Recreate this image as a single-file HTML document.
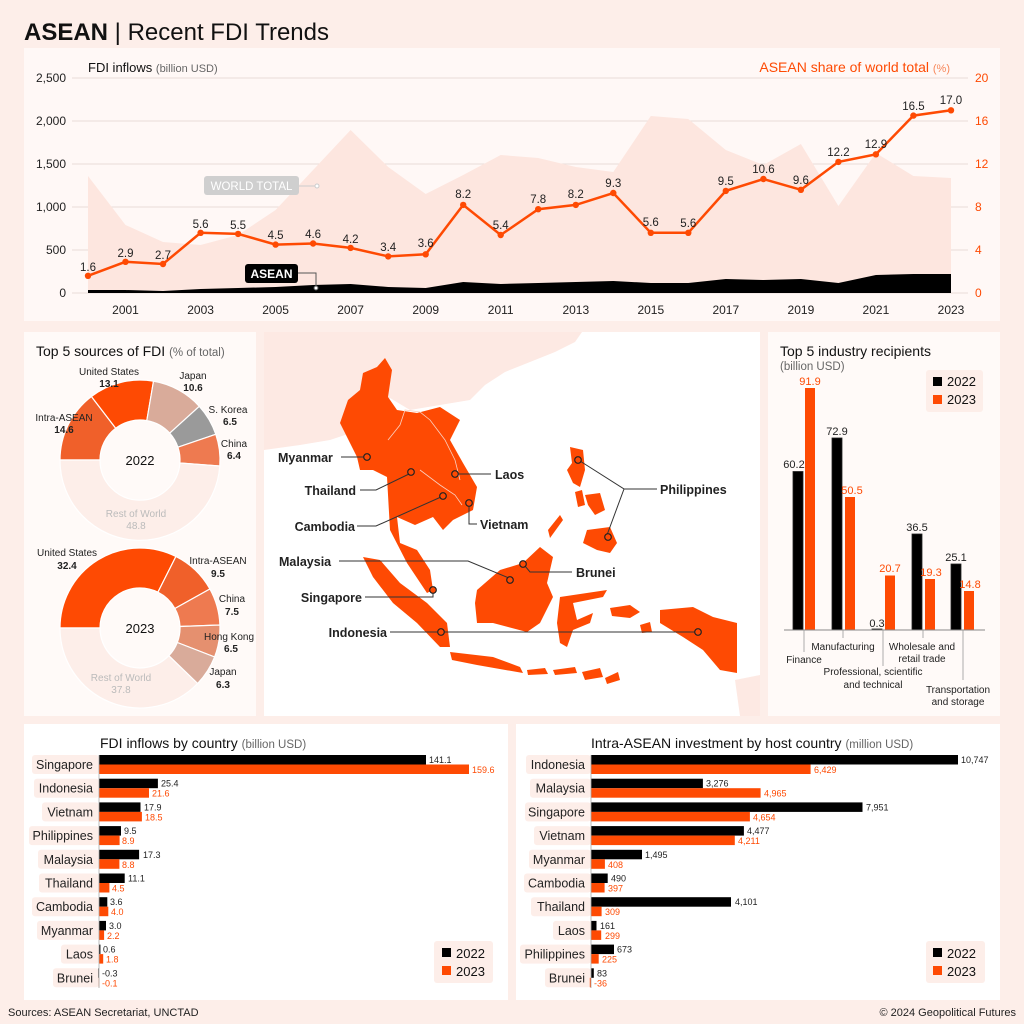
<!DOCTYPE html>
<html><head><meta charset="utf-8"><style>
html,body{margin:0;padding:0;background:#fdeee9;}
svg{display:block;font-family:"Liberation Sans",sans-serif;}
</style></head><body>
<svg width="1024" height="1024" viewBox="0 0 1024 1024" xmlns="http://www.w3.org/2000/svg">
<rect width="1024" height="1024" fill="#fdeee9"/>
<text x="24" y="40" font-size="24" font-weight="bold" fill="#111">ASEAN<tspan font-weight="normal"> | Recent FDI Trends</tspan></text>

<!-- TOP PANEL -->
<rect x="24" y="48" width="976" height="273" fill="#fff8f6"/>
<g stroke="#eadcd8" stroke-width="1">
<line x1="72" y1="78" x2="968" y2="78"/><line x1="72" y1="121" x2="968" y2="121"/><line x1="72" y1="164" x2="968" y2="164"/><line x1="72" y1="207" x2="968" y2="207"/><line x1="72" y1="250" x2="968" y2="250"/><line x1="72" y1="293" x2="968" y2="293"/>
</g>
<polygon fill="#fde6df" points="88,293 88,176 125.5,225 163,242 200.6,245 238.1,235 275.6,210 313.1,170 350.6,130 388.2,167 425.7,194 463.2,175 500.7,155 538.2,158 575.8,167 613.3,172 650.8,116 688.3,119 725.8,150 763.4,165 800.9,144 838.4,206 875.9,153 913.4,176 951,178 951,293"/>
<polygon fill="#000" points="88,293 88,290 125.5,290 163,291 200.6,289 238.1,288 275.6,287 313.1,285 350.6,284 388.2,287 425.7,288 463.2,282 500.7,284 538.2,283 575.8,282 613.3,281 650.8,283 688.3,283 725.8,279 763.4,280 800.9,279 838.4,283 875.9,275 913.4,274 951,274 951,293"/>
<g font-size="12" fill="#222" text-anchor="end">
<text x="66" y="82">2,500</text><text x="66" y="125">2,000</text><text x="66" y="168">1,500</text><text x="66" y="211">1,000</text><text x="66" y="254">500</text><text x="66" y="297">0</text>
</g>
<g font-size="12" fill="#fe4a03">
<text x="975" y="82">20</text><text x="975" y="125">16</text><text x="975" y="168">12</text><text x="975" y="211">8</text><text x="975" y="254">4</text><text x="975" y="297">0</text>
</g>
<g font-size="12" fill="#222" text-anchor="middle">
<text x="125.5" y="314">2001</text><text x="200.6" y="314">2003</text><text x="275.6" y="314">2005</text><text x="350.6" y="314">2007</text><text x="425.7" y="314">2009</text><text x="500.7" y="314">2011</text><text x="575.8" y="314">2013</text><text x="650.8" y="314">2015</text><text x="725.8" y="314">2017</text><text x="800.9" y="314">2019</text><text x="875.9" y="314">2021</text><text x="951" y="314">2023</text>
</g>
<text x="88" y="72" font-size="13" fill="#111">FDI inflows <tspan font-size="11" fill="#666">(billion USD)</tspan></text>
<text x="950" y="72" font-size="14" fill="#fe4a03" text-anchor="end">ASEAN share of world total <tspan font-size="11" fill="#f7875a">(%)</tspan></text>
<rect x="204" y="176" width="95" height="19" rx="3" fill="#cfcfcf"/>
<text x="251.5" y="190" font-size="11.5" fill="#fff" text-anchor="middle">WORLD TOTAL</text>
<line x1="299" y1="186" x2="316" y2="186" stroke="#ccc"/><circle cx="317" cy="186" r="2" fill="#fff" stroke="#ccc"/>
<rect x="245" y="264" width="53" height="19" rx="3" fill="#000"/>
<text x="271.5" y="278" font-size="12" font-weight="bold" fill="#fff" text-anchor="middle">ASEAN</text>
<polyline points="298,273 316,273 316,287" fill="none" stroke="#555"/><circle cx="316" cy="288" r="2" fill="#fff" stroke="#555"/>
<polyline fill="none" stroke="#fe4a03" stroke-width="2.5" points="88,275.8 125.5,261.8 163,264 200.6,232.8 238.1,233.9 275.6,244.6 313.1,243.5 350.6,247.9 388.2,256.4 425.7,254.3 463.2,204.9 500.7,235 538.2,209.2 575.8,204.9 613.3,193 650.8,232.8 688.3,232.8 725.8,190.9 763.4,179 800.9,189.8 838.4,161.9 875.9,154.3 913.4,115.6 951,110.3"/>
<g fill="#fe4a03">
<circle cx="88" cy="275.8" r="3.2"/><circle cx="125.5" cy="261.8" r="3.2"/><circle cx="163" cy="264" r="3.2"/><circle cx="200.6" cy="232.8" r="3.2"/><circle cx="238.1" cy="233.9" r="3.2"/><circle cx="275.6" cy="244.6" r="3.2"/><circle cx="313.1" cy="243.5" r="3.2"/><circle cx="350.6" cy="247.9" r="3.2"/><circle cx="388.2" cy="256.4" r="3.2"/><circle cx="425.7" cy="254.3" r="3.2"/><circle cx="463.2" cy="204.9" r="3.2"/><circle cx="500.7" cy="235" r="3.2"/><circle cx="538.2" cy="209.2" r="3.2"/><circle cx="575.8" cy="204.9" r="3.2"/><circle cx="613.3" cy="193" r="3.2"/><circle cx="650.8" cy="232.8" r="3.2"/><circle cx="688.3" cy="232.8" r="3.2"/><circle cx="725.8" cy="190.9" r="3.2"/><circle cx="763.4" cy="179" r="3.2"/><circle cx="800.9" cy="189.8" r="3.2"/><circle cx="838.4" cy="161.9" r="3.2"/><circle cx="875.9" cy="154.3" r="3.2"/><circle cx="913.4" cy="115.6" r="3.2"/><circle cx="951" cy="110.3" r="3.2"/>
</g>
<g font-size="11.5" fill="#222" text-anchor="middle">
<text x="88" y="271">1.6</text><text x="125.5" y="257">2.9</text><text x="163" y="259">2.7</text><text x="200.6" y="228">5.6</text><text x="238.1" y="229">5.5</text><text x="275.6" y="239">4.5</text><text x="313.1" y="238">4.6</text><text x="350.6" y="243">4.2</text><text x="388.2" y="251">3.4</text><text x="425.7" y="247">3.6</text><text x="463.2" y="198">8.2</text><text x="500.7" y="229">5.4</text><text x="538.2" y="203">7.8</text><text x="575.8" y="198">8.2</text><text x="613.3" y="187">9.3</text><text x="650.8" y="226">5.6</text><text x="688.3" y="227">5.6</text><text x="725.8" y="185">9.5</text><text x="763.4" y="173">10.6</text><text x="800.9" y="184">9.6</text><text x="838.4" y="156">12.2</text><text x="875.9" y="148">12.9</text><text x="913.4" y="110">16.5</text><text x="951" y="104">17.0</text>
</g>

<!-- DONUT PANEL -->
<rect x="24" y="332" width="232" height="384" fill="#fffaf8"/>
<text x="36" y="356" font-size="14" fill="#111">Top 5 sources of FDI <tspan font-size="11.5" fill="#666">(% of total)</tspan></text>
<g stroke="#fff" stroke-width="1.2">
<path fill="#f0602a" d="M60,460 A80,80 0 0 1 91.4,396.5 L115.7,428.2 A40,40 0 0 0 100,460 Z"/>
<path fill="#fe4a03" d="M91.4,396.5 A80,80 0 0 1 153.5,381.2 L146.8,420.6 A40,40 0 0 0 115.7,428.2 Z"/>
<path fill="#d9ab9a" d="M153.5,381.2 A80,80 0 0 1 199.3,406.3 L169.7,433.2 A40,40 0 0 0 146.8,420.6 Z"/>
<path fill="#9a9a9a" d="M199.3,406.3 A80,80 0 0 1 215.8,434.3 L177.9,447.2 A40,40 0 0 0 169.7,433.2 Z"/>
<path fill="#ee7a50" d="M215.8,434.3 A80,80 0 0 1 219.8,466 L179.9,463 A40,40 0 0 0 177.9,447.2 Z"/>
<path fill="#fdeee9" d="M219.8,466 A80,80 0 0 1 60,460 L100,460 A40,40 0 0 0 179.9,463 Z"/>
<path fill="#fe4a03" d="M60,628 A80,80 0 0 1 175.9,556.5 L157.9,592.2 A40,40 0 0 0 100,628 Z"/>
<path fill="#f0602a" d="M175.9,556.5 A80,80 0 0 1 209.9,589 L174.9,608.5 A40,40 0 0 0 157.9,592.2 Z"/>
<path fill="#ee7a50" d="M209.9,589 A80,80 0 0 1 219.9,625 L180,626.5 A40,40 0 0 0 174.9,608.5 Z"/>
<path fill="#e5906f" d="M219.9,625 A80,80 0 0 1 214.6,657 L177.3,642.5 A40,40 0 0 0 180,626.5 Z"/>
<path fill="#d9ab9a" d="M214.6,657 A80,80 0 0 1 197.6,683.5 L168.8,655.7 A40,40 0 0 0 177.3,642.5 Z"/>
<path fill="#fdeee9" d="M197.6,683.5 A80,80 0 0 1 60,628 L100,628 A40,40 0 0 0 168.8,655.7 Z"/>
</g>
<g font-size="13" fill="#111" text-anchor="middle"><text x="140" y="465">2022</text><text x="140" y="633">2023</text></g>
<g font-size="10" fill="#222" text-anchor="middle">
<text x="109" y="375">United States</text><text x="109" y="387" font-weight="bold">13.1</text>
<text x="64" y="421">Intra-ASEAN</text><text x="64" y="433" font-weight="bold">14.6</text>
<text x="193" y="379">Japan</text><text x="193" y="391" font-weight="bold">10.6</text>
<text x="228" y="413">S. Korea</text><text x="230" y="425" font-weight="bold">6.5</text>
<text x="234" y="447">China</text><text x="234" y="459" font-weight="bold">6.4</text>
<text x="136" y="517" fill="#bbb">Rest of World</text><text x="136" y="529" fill="#bbb">48.8</text>
<text x="67" y="556">United States</text><text x="67" y="569" font-weight="bold">32.4</text>
<text x="218" y="564">Intra-ASEAN</text><text x="218" y="577" font-weight="bold">9.5</text>
<text x="232" y="602">China</text><text x="232" y="615" font-weight="bold">7.5</text>
<text x="229" y="640">Hong Kong</text><text x="231" y="652" font-weight="bold">6.5</text>
<text x="223" y="675">Japan</text><text x="223" y="688" font-weight="bold">6.3</text>
<text x="121" y="681" fill="#bbb">Rest of World</text><text x="121" y="693" fill="#bbb">37.8</text>
</g>

<!-- MAP PANEL -->
<rect x="264" y="332" width="496" height="384" fill="#ffffff"/>
<polygon fill="#fde9e3" points="264,332 582,332 575,342 555,352 530,362 505,372 485,385 470,400 440,405 410,410 390,398 380,410 360,430 330,440 300,445 264,450"/>
<polygon fill="#fde9e3" points="735,680 760,675 760,716 740,716"/>
<g fill="#fe4a03">
<polygon points="385,358 392,370 388,397 397,410 417,413 440,407 460,420 450,440 463,463 477,487 473,510 453,520 443,530 433,517 415,525 397,517 400,543 417,550 430,570 433,590 427,593 407,563 390,530 387,477 373,470 360,470 357,457 340,423 348,400 360,390 363,373 377,367"/>
<polygon points="363,557 380,560 400,583 427,603 447,623 450,647 440,647 417,623 393,603 373,577"/>
<polygon points="450,652 493,657 520,667 523,673 477,665 452,660"/>
<polygon points="527,670 545,668 548,674 528,675"/><polygon points="553,670 575,667 577,673 555,675"/><polygon points="582,672 600,668 603,677 585,680"/><polygon points="605,678 618,672 620,680 607,684"/>
<polygon points="477,590 500,570 523,563 540,547 553,557 547,583 553,597 540,623 527,632 493,623 477,623 475,603"/>
<polygon points="560,597 607,590 603,597 573,603 577,620 593,613 590,623 573,630 567,647 560,643 557,623"/>
<polygon points="660,610 693,607 713,617 737,623 737,673 720,670 703,650 683,637 660,623"/>
<polygon points="570,447 583,450 585,470 580,487 573,483 567,470 572,463"/>
<polygon points="585,495 600,493 605,510 595,515 588,505"/><polygon points="575,492 582,490 585,505 578,507"/>
<polygon points="587,530 610,527 617,543 610,553 597,550 583,543"/>
<polygon points="610,608 630,605 640,612 630,618 612,616"/><polygon points="640,625 650,622 652,632 642,633"/>
<polygon points="548,530 560,515 563,520 550,538"/>
</g>
<g fill="none" stroke="#fbd0c0" stroke-width="0.8">
<polyline points="388,440 400,425 405,410 420,412 430,420 445,440 455,460 460,480"/>
<polyline points="420,470 440,485 455,495 462,505"/>
</g>
<g stroke="#333" stroke-width="1" fill="none">
<line x1="341" y1="457" x2="364" y2="457"/>
<polyline points="360,490 376,490 409,474"/>
<polyline points="357,526 376,526 441,497"/>
<line x1="458" y1="474" x2="491" y2="474"/>
<polyline points="469,506 469,524 477,524"/>
<polyline points="339,561 468,561 509,578"/>
<polyline points="525,566 530,572 572,572"/>
<polyline points="365,597 433,597 433,592"/>
<line x1="390" y1="632" x2="696" y2="632"/>
<polyline points="580,461 624,489 607,535"/><line x1="624" y1="489" x2="657" y2="489"/>
</g>
<g fill="#fe4a03" stroke="#222" stroke-width="1.2">
<circle cx="367" cy="457" r="3.3"/><circle cx="411" cy="472" r="3.3"/><circle cx="443" cy="496" r="3.3"/><circle cx="455" cy="474" r="3.3"/><circle cx="469" cy="503" r="3.3"/><circle cx="510" cy="580" r="3.3"/><circle cx="523" cy="564" r="3.3"/><circle cx="433" cy="590" r="3.3"/><circle cx="441" cy="632" r="3.3"/><circle cx="698" cy="632" r="3.3"/><circle cx="578" cy="460" r="3.3"/><circle cx="608" cy="537" r="3.3"/>
</g>
<g font-size="12.5" font-weight="bold" fill="#222">
<text x="278" y="462">Myanmar</text>
<text x="356" y="495" text-anchor="end">Thailand</text>
<text x="355" y="531" text-anchor="end">Cambodia</text>
<text x="495" y="479">Laos</text>
<text x="480" y="529">Vietnam</text>
<text x="279" y="566">Malaysia</text>
<text x="576" y="577">Brunei</text>
<text x="362" y="602" text-anchor="end">Singapore</text>
<text x="387" y="637" text-anchor="end">Indonesia</text>
<text x="660" y="494">Philippines</text>
</g>

<!-- INDUSTRY PANEL -->
<rect x="768" y="332" width="232" height="384" fill="#fffaf8"/>
<text x="780" y="356" font-size="14" fill="#111">Top 5 industry recipients</text>
<text x="780" y="370" font-size="11.5" fill="#666">(billion USD)</text>
<rect x="926" y="370" width="57" height="42" rx="3" fill="#fdeee9"/>
<rect x="933" y="377" width="9" height="9" fill="#000"/><text x="947" y="386" font-size="13" fill="#111">2022</text>
<rect x="933" y="395" width="9" height="9" fill="#fe4a03"/><text x="947" y="404" font-size="13" fill="#111">2023</text>
<g stroke="#222" stroke-width="0.8">
<rect x="793" y="471.5" width="10" height="158.5" fill="#000"/>
<rect x="832" y="438" width="10" height="192" fill="#000"/>
<rect x="872" y="629" width="10" height="1" fill="#000"/>
<rect x="912" y="534" width="10" height="96" fill="#000"/>
<rect x="951" y="564" width="10" height="66" fill="#000"/>
</g>
<g fill="#fe4a03">
<rect x="805" y="388" width="10" height="242"/><rect x="845" y="497" width="10" height="133"/><rect x="885" y="575.5" width="10" height="54.5"/><rect x="925" y="579" width="10" height="51"/><rect x="964" y="591" width="10" height="39"/>
</g>
<line x1="784" y1="630" x2="985" y2="630" stroke="#888"/>
<g stroke="#999" stroke-width="0.8">
<line x1="804" y1="630" x2="804" y2="652"/><line x1="843" y1="630" x2="843" y2="638"/><line x1="883" y1="630" x2="883" y2="666"/><line x1="923" y1="630" x2="923" y2="638"/><line x1="963" y1="630" x2="963" y2="680"/>
</g>
<g font-size="11" text-anchor="middle">
<text x="794" y="468" fill="#222">60.2</text><text x="810" y="385" fill="#fe4a03">91.9</text>
<text x="837" y="435" fill="#222">72.9</text><text x="852" y="494" fill="#fe4a03">50.5</text>
<text x="877" y="627" fill="#222">0.3</text><text x="890" y="572" fill="#fe4a03">20.7</text>
<text x="917" y="531" fill="#222">36.5</text><text x="931" y="576" fill="#fe4a03">19.3</text>
<text x="956" y="561" fill="#222">25.1</text><text x="970" y="588" fill="#fe4a03">14.8</text>
</g>
<g font-size="10" fill="#222" text-anchor="middle">
<text x="804" y="663">Finance</text>
<text x="843" y="650">Manufacturing</text>
<text x="873" y="675">Professional, scientific</text><text x="873" y="688">and technical</text>
<text x="922" y="650">Wholesale and</text><text x="922" y="662">retail trade</text>
<text x="958" y="693">Transportation</text><text x="958" y="705">and storage</text>
</g>

<!-- BOTTOM LEFT -->
<rect x="24" y="724" width="484" height="276" fill="#ffffff"/>
<text x="100" y="748" font-size="14" fill="#111">FDI inflows by country <tspan font-size="11.5" fill="#666">(billion USD)</tspan></text>
<g fill="#fdeee9">
<rect x="32" y="755" width="67" height="19" rx="3"/><rect x="34" y="778.7" width="65" height="19" rx="3"/><rect x="42" y="802.4" width="57" height="19" rx="3"/><rect x="29" y="826.1" width="70" height="19" rx="3"/><rect x="38" y="849.8" width="61" height="19" rx="3"/><rect x="39" y="873.5" width="60" height="19" rx="3"/><rect x="32" y="897.2" width="67" height="19" rx="3"/><rect x="37" y="920.9" width="62" height="19" rx="3"/><rect x="61" y="944.6" width="38" height="19" rx="3"/><rect x="53" y="968.3" width="46" height="19" rx="3"/>
</g>
<g font-size="12.5" fill="#222" text-anchor="end">
<text x="93" y="769">Singapore</text><text x="93" y="792.7">Indonesia</text><text x="93" y="816.4">Vietnam</text><text x="93" y="840.1">Philippines</text><text x="93" y="863.8">Malaysia</text><text x="93" y="887.5">Thailand</text><text x="93" y="911.2">Cambodia</text><text x="93" y="934.9">Myanmar</text><text x="93" y="958.6">Laos</text><text x="93" y="982.3">Brunei</text>
</g>
<g fill="#000">
<rect x="99" y="755" width="327" height="9.5"/><rect x="99" y="778.7" width="58.9" height="9.5"/><rect x="99" y="802.4" width="41.5" height="9.5"/><rect x="99" y="826.1" width="22" height="9.5"/><rect x="99" y="849.8" width="40.1" height="9.5"/><rect x="99" y="873.5" width="25.7" height="9.5"/><rect x="99" y="897.2" width="8.3" height="9.5"/><rect x="99" y="920.9" width="7" height="9.5"/><rect x="99" y="944.6" width="1.4" height="9.5"/><rect x="98.3" y="968.3" width="0.7" height="9.5"/>
</g>
<g fill="#fe4a03">
<rect x="99" y="764.5" width="370" height="9.5"/><rect x="99" y="788.2" width="50" height="9.5"/><rect x="99" y="811.9" width="42.9" height="9.5"/><rect x="99" y="835.6" width="20.6" height="9.5"/><rect x="99" y="859.3" width="20.4" height="9.5"/><rect x="99" y="883" width="10.4" height="9.5"/><rect x="99" y="906.7" width="9.3" height="9.5"/><rect x="99" y="930.4" width="5.1" height="9.5"/><rect x="99" y="954.1" width="4.2" height="9.5"/><rect x="98.7" y="977.8" width="0.5" height="9.5"/>
</g>
<line x1="99" y1="755" x2="99" y2="988" stroke="#aaa" stroke-width="0.8"/>
<g font-size="9" fill="#222">
<text x="429" y="763">141.1</text><text x="161" y="786.7">25.4</text><text x="144" y="810.4">17.9</text><text x="124" y="834.1">9.5</text><text x="143" y="857.8">17.3</text><text x="128" y="881.5">11.1</text><text x="110" y="905.2">3.6</text><text x="109" y="928.9">3.0</text><text x="103" y="952.6">0.6</text><text x="102" y="976.3">-0.3</text>
</g>
<g font-size="9" fill="#fe4a03">
<text x="472" y="773">159.6</text><text x="152" y="796.7">21.6</text><text x="145" y="820.4">18.5</text><text x="122" y="844.1">8.9</text><text x="122" y="867.8">8.8</text><text x="112" y="891.5">4.5</text><text x="111" y="915.2">4.0</text><text x="107" y="938.9">2.2</text><text x="106" y="962.6">1.8</text><text x="102" y="986.3">-0.1</text>
</g>
<rect x="434" y="941" width="59" height="42" rx="3" fill="#fdeee9"/>
<rect x="442" y="948" width="9" height="9" fill="#000"/><text x="456" y="958" font-size="13" fill="#111">2022</text>
<rect x="442" y="966" width="9" height="9" fill="#fe4a03"/><text x="456" y="976" font-size="13" fill="#111">2023</text>

<!-- BOTTOM RIGHT -->
<rect x="516" y="724" width="484" height="276" fill="#ffffff"/>
<text x="591" y="748" font-size="14" fill="#111">Intra-ASEAN investment by host country <tspan font-size="11.5" fill="#666">(million USD)</tspan></text>
<g fill="#fdeee9">
<rect x="526" y="755" width="65" height="19" rx="3"/><rect x="530" y="778.7" width="61" height="19" rx="3"/><rect x="525" y="802.4" width="66" height="19" rx="3"/><rect x="534" y="826.1" width="57" height="19" rx="3"/><rect x="529" y="849.8" width="62" height="19" rx="3"/><rect x="524" y="873.5" width="67" height="19" rx="3"/><rect x="531" y="897.2" width="60" height="19" rx="3"/><rect x="553" y="920.9" width="38" height="19" rx="3"/><rect x="520" y="944.6" width="71" height="19" rx="3"/><rect x="545" y="968.3" width="46" height="19" rx="3"/>
</g>
<g font-size="12.5" fill="#222" text-anchor="end">
<text x="585" y="769">Indonesia</text><text x="585" y="792.7">Malaysia</text><text x="585" y="816.4">Singapore</text><text x="585" y="840.1">Vietnam</text><text x="585" y="863.8">Myanmar</text><text x="585" y="887.5">Cambodia</text><text x="585" y="911.2">Thailand</text><text x="585" y="934.9">Laos</text><text x="585" y="958.6">Philippines</text><text x="585" y="982.3">Brunei</text>
</g>
<g fill="#000">
<rect x="591" y="755" width="367" height="9.5"/><rect x="591" y="778.7" width="111.9" height="9.5"/><rect x="591" y="802.4" width="271.5" height="9.5"/><rect x="591" y="826.1" width="152.9" height="9.5"/><rect x="591" y="849.8" width="51" height="9.5"/><rect x="591" y="873.5" width="16.7" height="9.5"/><rect x="591" y="897.2" width="140" height="9.5"/><rect x="591" y="920.9" width="5.5" height="9.5"/><rect x="591" y="944.6" width="23" height="9.5"/><rect x="591" y="968.3" width="2.8" height="9.5"/>
</g>
<g fill="#fe4a03">
<rect x="591" y="764.5" width="219.6" height="9.5"/><rect x="591" y="788.2" width="169.6" height="9.5"/><rect x="591" y="811.9" width="158.9" height="9.5"/><rect x="591" y="835.6" width="143.8" height="9.5"/><rect x="591" y="859.3" width="13.9" height="9.5"/><rect x="591" y="883" width="13.6" height="9.5"/><rect x="591" y="906.7" width="10.6" height="9.5"/><rect x="591" y="930.4" width="10.2" height="9.5"/><rect x="591" y="954.1" width="7.7" height="9.5"/><rect x="589.8" y="977.8" width="1.2" height="9.5"/>
</g>
<line x1="591" y1="755" x2="591" y2="988" stroke="#aaa" stroke-width="0.8"/>
<g font-size="9" fill="#222">
<text x="961" y="763">10,747</text><text x="706" y="786.7">3,276</text><text x="866" y="810.4">7,951</text><text x="747" y="834.1">4,477</text><text x="645" y="857.8">1,495</text><text x="611" y="881.5">490</text><text x="735" y="905.2">4,101</text><text x="600" y="928.9">161</text><text x="617" y="952.6">673</text><text x="597" y="976.3">83</text>
</g>
<g font-size="9" fill="#fe4a03">
<text x="814" y="773">6,429</text><text x="764" y="796.7">4,965</text><text x="753" y="820.4">4,654</text><text x="738" y="844.1">4,211</text><text x="608" y="867.8">408</text><text x="608" y="891.5">397</text><text x="605" y="915.2">309</text><text x="605" y="938.9">299</text><text x="602" y="962.6">225</text><text x="594" y="986.3">-36</text>
</g>
<rect x="926" y="941" width="59" height="42" rx="3" fill="#fdeee9"/>
<rect x="933" y="948" width="9" height="9" fill="#000"/><text x="947" y="958" font-size="13" fill="#111">2022</text>
<rect x="933" y="966" width="9" height="9" fill="#fe4a03"/><text x="947" y="976" font-size="13" fill="#111">2023</text>

<text x="8" y="1016" font-size="11" fill="#222">Sources: ASEAN Secretariat, UNCTAD</text>
<text x="1016" y="1016" font-size="11" fill="#222" text-anchor="end">© 2024 Geopolitical Futures</text>
</svg>
</body></html>
